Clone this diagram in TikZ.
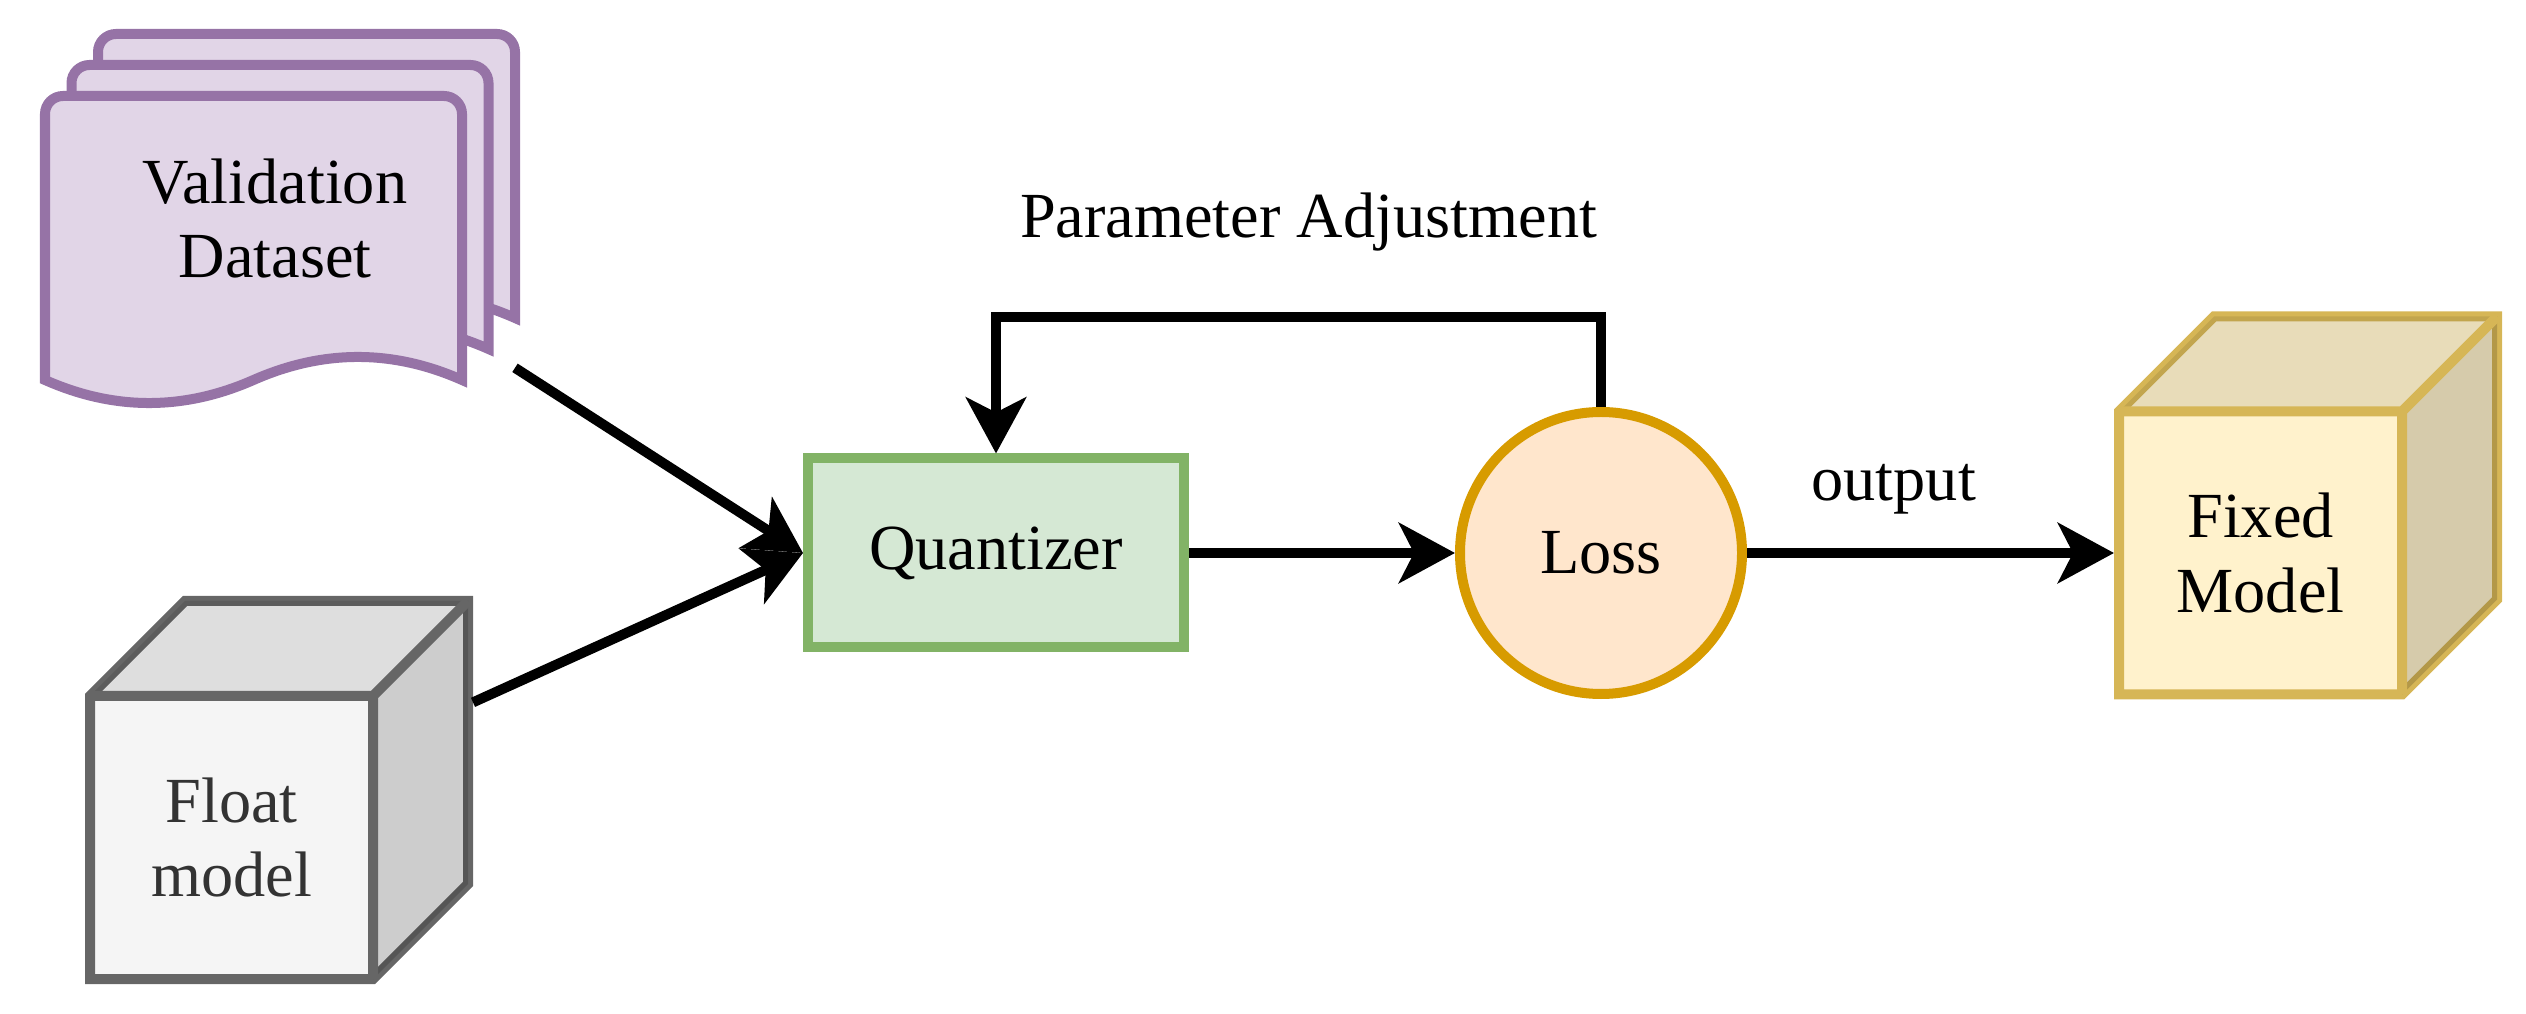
\documentclass[tikz,border=0pt]{standalone}
\usepackage{fontspec}
\setmainfont{Liberation Serif}
\usetikzlibrary{arrows.meta}
\usetikzlibrary{calc}
\usetikzlibrary{positioning}
\definecolor{pagefill}{HTML}{E1D5E7}
\definecolor{pageline}{HTML}{9673A6}
\definecolor{quantfill}{HTML}{D5E8D4}
\definecolor{quantline}{HTML}{82B366}
\definecolor{lossfill}{HTML}{FFE6CC}
\definecolor{lossline}{HTML}{D79B00}
\definecolor{floatfill}{HTML}{F5F5F5}
\definecolor{floatline}{HTML}{666666}
\definecolor{floattext}{HTML}{333333}
\definecolor{fixedfill}{HTML}{FFF2CC}
\definecolor{fixedline}{HTML}{D6B656}
\newcommand{\cubefaces}[3]{%
\filldraw[cubeline,fill=#2,draw=#3] ($(#1.center)+(-1.89,-1.89)$) -- ++(0,2.83) -- ++(.95,.95) -- ++(2.83,0) -- ++(0,-2.83) -- ++(-.95,-.95) -- cycle;
\fill[black,opacity=.09] ($(#1.center)+(-1.89,.94)$) -- ++(.95,.95) -- ++(2.83,0) -- ++(-.95,-.95) -- cycle;
\fill[black,opacity=.16] ($(#1.center)+(.94,.94)$) -- ++(.95,.95) -- ++(0,-2.83) -- ++(-.95,-.95) -- cycle;
\draw[cubeline,draw=#3] ($(#1.center)+(-1.89,.94)$) -- ++(2.83,0) -- ++(.95,.95) ++(-.95,-.95) -- ++(0,-2.83);
}

\begin{document}
\begin{tikzpicture}[>={Stealth[length=5.6mm,width=6mm,inset=1.5mm]},
every node/.style={font=\fontsize{18.3}{21.3}\selectfont},
page/.style={line width=.1cm,draw=pageline,fill=pagefill},
hull/.style={rectangle,inner sep=0,outer sep=0},
quantbox/.style={rectangle,line width=.1cm,draw=quantline,fill=quantfill,minimum width=3.76cm,minimum height=1.89cm,inner sep=0},
lossnode/.style={circle,line width=.1cm,draw=lossline,fill=lossfill,minimum size=2.82cm,inner sep=0},
cubeline/.style={line width=.1cm},
cubetext/.style={align=center},
edgetext/.style={inner sep=0}]

\useasboundingbox (0,0) rectangle (25.26,-10.14);
\pgfmathsetmacro{\sor}{-5.53}

\foreach \k in {2,1,0}{
\draw[page,shift={(\k*.265,\k*.31)}] (.45,-3.8) -- (.45,-1.14) arc[start angle=180,end angle=90,radius=.18] -- (4.44,-.96) arc[start angle=90,end angle=0,radius=.18] -- (4.62,-3.8) .. controls (3.927,-3.493) and (3.232,-3.493) .. (2.535,-3.8) .. controls (1.838,-4.107) and (1.143,-4.107) .. (.45,-3.8) -- cycle;
}
\node[hull,minimum width=4.7cm,minimum height=3.66cm](docs) at (2.8,-2.17){};
\node[align=center](docs-text) at (2.75,-2.185){Validation\\Dataset};

\node[hull,minimum size=3.78cm,outer sep=.05cm](float) at (2.79,-7.9){};
\cubefaces{float}{floatfill}{floatline}
\node[cubetext,text=floattext](float-text) at ($(float.center)+(-.475,-.475)$){Float\\model};

\node[quantbox](quant) at (9.96,\sor){Quantizer};
\node[lossnode](loss) at (16.01,\sor){Loss};

\node[hull,minimum size=3.78cm,outer sep=.05cm](fixed) at (23.08,\sor+.475){};
\cubefaces{fixed}{fixedfill}{fixedline}
\node[cubetext](fixed-text) at ($(fixed.center)+(-.475,-.475)$){Fixed\\Model};

\begin{scope}[->,line width=.1cm]
\draw (docs)--(quant.west);
\draw (float)--(quant.west);
\draw (quant)--(loss);
\draw (loss.north)--++(0,.9) -| (quant.north) node[pos=.25,above=6.1mm,xshift=1mm,edgetext]{Parameter Adjustment};
\draw (loss)--(loss -| fixed.west) node[pos=.4,above=3.4mm,edgetext]{output};
\end{scope}

\end{tikzpicture}
\end{document}
